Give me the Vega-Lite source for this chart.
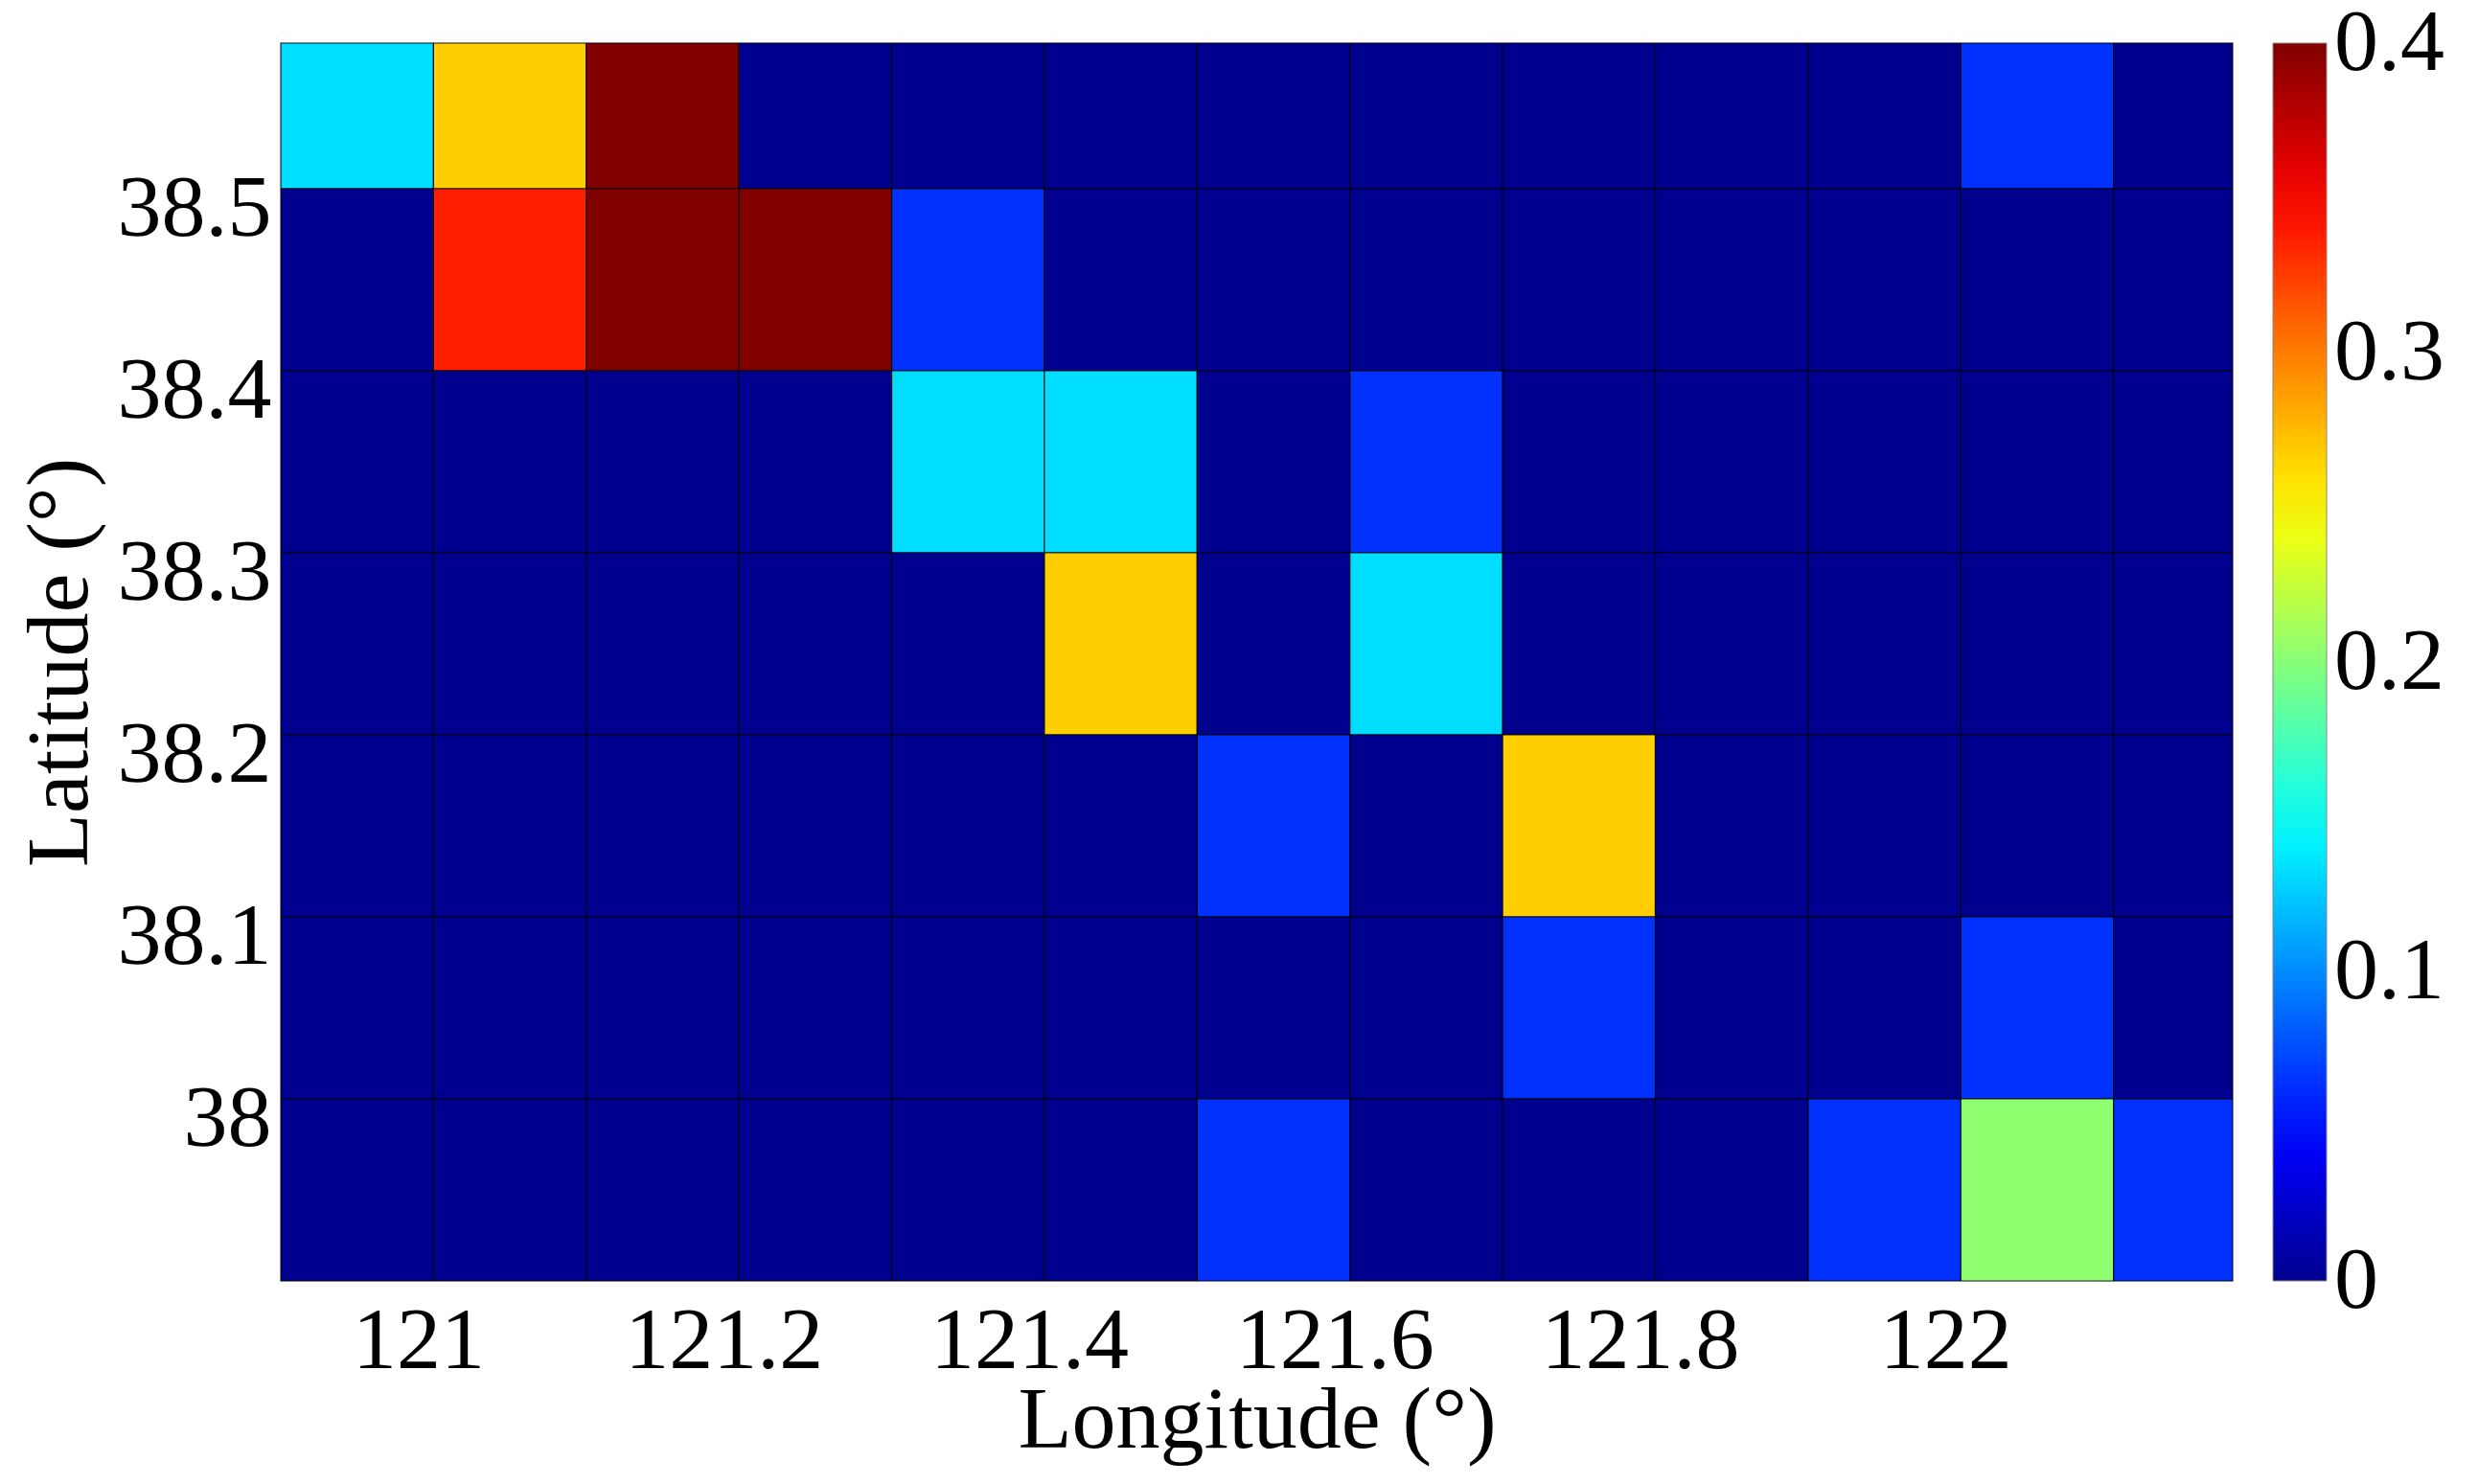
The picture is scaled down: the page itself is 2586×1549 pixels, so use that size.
{
  "$schema": "https://vega.github.io/schema/vega-lite/v6.json",
  "width": 2037,
  "height": 1292,
  "autosize": {"type": "none"},
  "padding": {"left": 293, "top": 45, "right": 256, "bottom": 212},
  "background": "white",
  "config": {"view": {"stroke": "#555", "strokeWidth": 1.5}, "font": "Liberation Serif"},
  "data": {"values": [
    {"lon": 120.91, "lon2": 121.01, "lat": 38.511, "lat2": 38.591, "v": 0.133},
    {"lon": 121.01, "lon2": 121.11, "lat": 38.511, "lat2": 38.591, "v": 0.267},
    {"lon": 121.11, "lon2": 121.21, "lat": 38.511, "lat2": 38.591, "v": 0.4},
    {"lon": 121.21, "lon2": 121.31, "lat": 38.511, "lat2": 38.591, "v": 0},
    {"lon": 121.31, "lon2": 121.41, "lat": 38.511, "lat2": 38.591, "v": 0},
    {"lon": 121.41, "lon2": 121.51, "lat": 38.511, "lat2": 38.591, "v": 0},
    {"lon": 121.51, "lon2": 121.61, "lat": 38.511, "lat2": 38.591, "v": 0},
    {"lon": 121.61, "lon2": 121.71, "lat": 38.511, "lat2": 38.591, "v": 0},
    {"lon": 121.71, "lon2": 121.81, "lat": 38.511, "lat2": 38.591, "v": 0},
    {"lon": 121.81, "lon2": 121.91, "lat": 38.511, "lat2": 38.591, "v": 0},
    {"lon": 121.91, "lon2": 122.01, "lat": 38.511, "lat2": 38.591, "v": 0},
    {"lon": 122.01, "lon2": 122.11, "lat": 38.511, "lat2": 38.591, "v": 0.064},
    {"lon": 122.11, "lon2": 122.188, "lat": 38.511, "lat2": 38.591, "v": 0},

    {"lon": 120.91, "lon2": 121.01, "lat": 38.411, "lat2": 38.511, "v": 0},
    {"lon": 121.01, "lon2": 121.11, "lat": 38.411, "lat2": 38.511, "v": 0.337},
    {"lon": 121.11, "lon2": 121.21, "lat": 38.411, "lat2": 38.511, "v": 0.4},
    {"lon": 121.21, "lon2": 121.31, "lat": 38.411, "lat2": 38.511, "v": 0.4},
    {"lon": 121.31, "lon2": 121.41, "lat": 38.411, "lat2": 38.511, "v": 0.064},
    {"lon": 121.41, "lon2": 121.51, "lat": 38.411, "lat2": 38.511, "v": 0},
    {"lon": 121.51, "lon2": 121.61, "lat": 38.411, "lat2": 38.511, "v": 0},
    {"lon": 121.61, "lon2": 121.71, "lat": 38.411, "lat2": 38.511, "v": 0},
    {"lon": 121.71, "lon2": 121.81, "lat": 38.411, "lat2": 38.511, "v": 0},
    {"lon": 121.81, "lon2": 121.91, "lat": 38.411, "lat2": 38.511, "v": 0},
    {"lon": 121.91, "lon2": 122.01, "lat": 38.411, "lat2": 38.511, "v": 0},
    {"lon": 122.01, "lon2": 122.11, "lat": 38.411, "lat2": 38.511, "v": 0},
    {"lon": 122.11, "lon2": 122.188, "lat": 38.411, "lat2": 38.511, "v": 0},

    {"lon": 120.91, "lon2": 121.01, "lat": 38.311, "lat2": 38.411, "v": 0},
    {"lon": 121.01, "lon2": 121.11, "lat": 38.311, "lat2": 38.411, "v": 0},
    {"lon": 121.11, "lon2": 121.21, "lat": 38.311, "lat2": 38.411, "v": 0},
    {"lon": 121.21, "lon2": 121.31, "lat": 38.311, "lat2": 38.411, "v": 0},
    {"lon": 121.31, "lon2": 121.41, "lat": 38.311, "lat2": 38.411, "v": 0.133},
    {"lon": 121.41, "lon2": 121.51, "lat": 38.311, "lat2": 38.411, "v": 0.133},
    {"lon": 121.51, "lon2": 121.61, "lat": 38.311, "lat2": 38.411, "v": 0},
    {"lon": 121.61, "lon2": 121.71, "lat": 38.311, "lat2": 38.411, "v": 0.064},
    {"lon": 121.71, "lon2": 121.81, "lat": 38.311, "lat2": 38.411, "v": 0},
    {"lon": 121.81, "lon2": 121.91, "lat": 38.311, "lat2": 38.411, "v": 0},
    {"lon": 121.91, "lon2": 122.01, "lat": 38.311, "lat2": 38.411, "v": 0},
    {"lon": 122.01, "lon2": 122.11, "lat": 38.311, "lat2": 38.411, "v": 0},
    {"lon": 122.11, "lon2": 122.188, "lat": 38.311, "lat2": 38.411, "v": 0},

    {"lon": 120.91, "lon2": 121.01, "lat": 38.211, "lat2": 38.311, "v": 0},
    {"lon": 121.01, "lon2": 121.11, "lat": 38.211, "lat2": 38.311, "v": 0},
    {"lon": 121.11, "lon2": 121.21, "lat": 38.211, "lat2": 38.311, "v": 0},
    {"lon": 121.21, "lon2": 121.31, "lat": 38.211, "lat2": 38.311, "v": 0},
    {"lon": 121.31, "lon2": 121.41, "lat": 38.211, "lat2": 38.311, "v": 0},
    {"lon": 121.41, "lon2": 121.51, "lat": 38.211, "lat2": 38.311, "v": 0.267},
    {"lon": 121.51, "lon2": 121.61, "lat": 38.211, "lat2": 38.311, "v": 0},
    {"lon": 121.61, "lon2": 121.71, "lat": 38.211, "lat2": 38.311, "v": 0.133},
    {"lon": 121.71, "lon2": 121.81, "lat": 38.211, "lat2": 38.311, "v": 0},
    {"lon": 121.81, "lon2": 121.91, "lat": 38.211, "lat2": 38.311, "v": 0},
    {"lon": 121.91, "lon2": 122.01, "lat": 38.211, "lat2": 38.311, "v": 0},
    {"lon": 122.01, "lon2": 122.11, "lat": 38.211, "lat2": 38.311, "v": 0},
    {"lon": 122.11, "lon2": 122.188, "lat": 38.211, "lat2": 38.311, "v": 0},

    {"lon": 120.91, "lon2": 121.01, "lat": 38.111, "lat2": 38.211, "v": 0},
    {"lon": 121.01, "lon2": 121.11, "lat": 38.111, "lat2": 38.211, "v": 0},
    {"lon": 121.11, "lon2": 121.21, "lat": 38.111, "lat2": 38.211, "v": 0},
    {"lon": 121.21, "lon2": 121.31, "lat": 38.111, "lat2": 38.211, "v": 0},
    {"lon": 121.31, "lon2": 121.41, "lat": 38.111, "lat2": 38.211, "v": 0},
    {"lon": 121.41, "lon2": 121.51, "lat": 38.111, "lat2": 38.211, "v": 0},
    {"lon": 121.51, "lon2": 121.61, "lat": 38.111, "lat2": 38.211, "v": 0.064},
    {"lon": 121.61, "lon2": 121.71, "lat": 38.111, "lat2": 38.211, "v": 0},
    {"lon": 121.71, "lon2": 121.81, "lat": 38.111, "lat2": 38.211, "v": 0.267},
    {"lon": 121.81, "lon2": 121.91, "lat": 38.111, "lat2": 38.211, "v": 0},
    {"lon": 121.91, "lon2": 122.01, "lat": 38.111, "lat2": 38.211, "v": 0},
    {"lon": 122.01, "lon2": 122.11, "lat": 38.111, "lat2": 38.211, "v": 0},
    {"lon": 122.11, "lon2": 122.188, "lat": 38.111, "lat2": 38.211, "v": 0},

    {"lon": 120.91, "lon2": 121.01, "lat": 38.011, "lat2": 38.111, "v": 0},
    {"lon": 121.01, "lon2": 121.11, "lat": 38.011, "lat2": 38.111, "v": 0},
    {"lon": 121.11, "lon2": 121.21, "lat": 38.011, "lat2": 38.111, "v": 0},
    {"lon": 121.21, "lon2": 121.31, "lat": 38.011, "lat2": 38.111, "v": 0},
    {"lon": 121.31, "lon2": 121.41, "lat": 38.011, "lat2": 38.111, "v": 0},
    {"lon": 121.41, "lon2": 121.51, "lat": 38.011, "lat2": 38.111, "v": 0},
    {"lon": 121.51, "lon2": 121.61, "lat": 38.011, "lat2": 38.111, "v": 0},
    {"lon": 121.61, "lon2": 121.71, "lat": 38.011, "lat2": 38.111, "v": 0},
    {"lon": 121.71, "lon2": 121.81, "lat": 38.011, "lat2": 38.111, "v": 0.064},
    {"lon": 121.81, "lon2": 121.91, "lat": 38.011, "lat2": 38.111, "v": 0},
    {"lon": 121.91, "lon2": 122.01, "lat": 38.011, "lat2": 38.111, "v": 0},
    {"lon": 122.01, "lon2": 122.11, "lat": 38.011, "lat2": 38.111, "v": 0.064},
    {"lon": 122.11, "lon2": 122.188, "lat": 38.011, "lat2": 38.111, "v": 0},

    {"lon": 120.91, "lon2": 121.01, "lat": 37.911, "lat2": 38.011, "v": 0},
    {"lon": 121.01, "lon2": 121.11, "lat": 37.911, "lat2": 38.011, "v": 0},
    {"lon": 121.11, "lon2": 121.21, "lat": 37.911, "lat2": 38.011, "v": 0},
    {"lon": 121.21, "lon2": 121.31, "lat": 37.911, "lat2": 38.011, "v": 0},
    {"lon": 121.31, "lon2": 121.41, "lat": 37.911, "lat2": 38.011, "v": 0},
    {"lon": 121.41, "lon2": 121.51, "lat": 37.911, "lat2": 38.011, "v": 0},
    {"lon": 121.51, "lon2": 121.61, "lat": 37.911, "lat2": 38.011, "v": 0.064},
    {"lon": 121.61, "lon2": 121.71, "lat": 37.911, "lat2": 38.011, "v": 0},
    {"lon": 121.71, "lon2": 121.81, "lat": 37.911, "lat2": 38.011, "v": 0},
    {"lon": 121.81, "lon2": 121.91, "lat": 37.911, "lat2": 38.011, "v": 0},
    {"lon": 121.91, "lon2": 122.01, "lat": 37.911, "lat2": 38.011, "v": 0.064},
    {"lon": 122.01, "lon2": 122.11, "lat": 37.911, "lat2": 38.011, "v": 0.203},
    {"lon": 122.11, "lon2": 122.188, "lat": 37.911, "lat2": 38.011, "v": 0.064}
  ]},
  "mark": {"type": "rect", "stroke": "#000", "strokeWidth": 1.2, "strokeOpacity": 0.85, "clip": true},
  "encoding": {
    "x": {
      "field": "lon", "type": "quantitative",
      "scale": {"domain": [120.91, 122.188], "nice": false, "zero": false},
      "axis": {
        "title": "Longitude (°)",
        "values": [121, 121.2, 121.4, 121.6, 121.8, 122],
        "format": "~g", "ticks": false, "domain": false, "grid": false,
        "labelFont": "Liberation Serif", "labelFontSize": 92, "labelColor": "#000",
        "labelPadding": 17, "labelFlush": false, "labelOverlap": false, "labelLimit": 500,
        "titleFont": "Liberation Serif", "titleFontSize": 92, "titleFontWeight": "normal",
        "titleColor": "#000", "titleBaseline": "alphabetic", "titleY": 173
      }
    },
    "x2": {"field": "lon2"},
    "y": {
      "field": "lat", "type": "quantitative",
      "scale": {"domain": [37.911, 38.591], "nice": false, "zero": false},
      "axis": {
        "title": "Latitude (°)",
        "values": [38, 38.1, 38.2, 38.3, 38.4, 38.5],
        "format": "~g", "ticks": false, "domain": false, "grid": false,
        "labelFont": "Liberation Serif", "labelFontSize": 92, "labelColor": "#000",
        "labelPadding": 10, "labelFlush": false, "labelOverlap": false, "labelLimit": 500,
        "titleFont": "Liberation Serif", "titleFontSize": 92, "titleFontWeight": "normal",
        "titleColor": "#000", "titleBaseline": "alphabetic", "titleX": -203
      }
    },
    "y2": {"field": "lat2"},
    "color": {
      "field": "v", "type": "quantitative",
      "scale": {
        "type": "linear",
        "domain": [0, 0.04444, 0.14603, 0.24762, 0.34921, 0.4],
        "range": ["#00008F", "#0000FF", "#00FFFF", "#FFFF00", "#FF0000", "#800000"],
        "interpolate": "rgb", "clamp": true
      },
      "legend": {
        "title": null, "orient": "right", "offset": 42, "padding": 0,
        "direction": "vertical",
        "gradientLength": 1292, "gradientThickness": 56,
        "gradientStrokeColor": "#888", "gradientStrokeWidth": 1,
        "values": [0, 0.1, 0.2, 0.3, 0.4], "format": "~g",
        "labelFont": "Liberation Serif", "labelFontSize": 92, "labelColor": "#000",
        "labelOffset": 8, "labelBaseline": "middle", "labelOverlap": false, "labelLimit": 400,
        "encode": {"labels": {"update": {"baseline": {"value": "middle"}, "dy": {"value": 0}}}}
      }
    }
  }
}
